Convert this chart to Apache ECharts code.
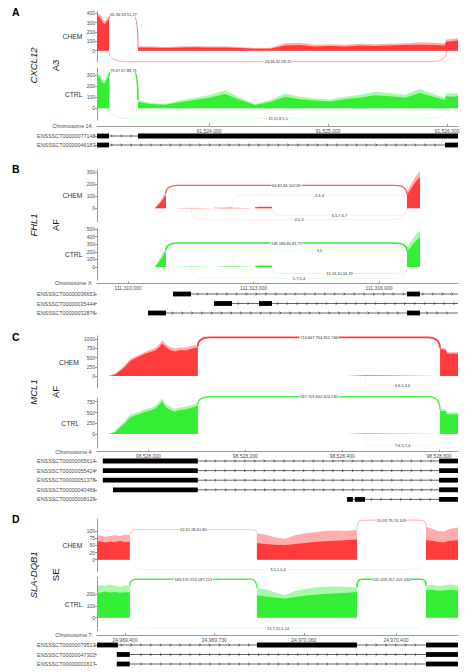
<!DOCTYPE html>
<html><head><meta charset="utf-8">
<script src="https://cdn.jsdelivr.net/npm/echarts@6/dist/echarts.min.js"></script>
<style>html,body{margin:0;padding:0;background:#fff}#c{width:474px;height:672px}</style>
</head><body><div id="c"></div>
<script>
// ================= DATA =================
// ---- Panel A : CXCL12 / A3 ----
const A_letter = 'A', A_gene = 'CXCL12', A_tissue = 'A3', A_chrom = 'Chromosome 14:';
const A_xRange = [91523059, 91526092];
const A_xTicks = [91524000, 91525000, 91526000];
const A_chemTicks = [0, 100, 200, 300, 400];
const A_ctrlTicks = [0, 100, 200, 300];
const A_covPos = [
  [91523059, 91523076, 91523092, 91523109, 91523126, 91523143, 91523160],
  [91523403, 91523504, 91523630, 91523756, 91523882, 91524008, 91524134, 91524261, 91524387, 91524513, 91524639, 91524765, 91524891, 91525017, 91525143, 91525269, 91525395, 91525521, 91525647, 91525773, 91525899, 91525983, 91525990, 91526042, 91526092]
];
const A_chemMean = [[360, 370, 340, 300, 280, 320, 340],
  [35, 35, 30, 35, 38, 35, 35, 30, 20, 20, 55, 60, 45, 50, 45, 55, 50, 55, 60, 65, 60, 55, 95, 100, 110]];
const A_chemMax = [[400, 395, 380, 340, 310, 350, 370],
  [45, 45, 40, 45, 48, 45, 45, 40, 28, 30, 80, 85, 65, 70, 65, 75, 70, 75, 80, 90, 85, 80, 120, 125, 135]];
const A_ctrlMean = [[300, 290, 260, 230, 225, 270, 290],
  [58, 40, 32, 55, 75, 95, 130, 75, 30, 58, 105, 82, 70, 62, 82, 95, 118, 110, 95, 138, 100, 75, 110, 105, 110]];
const A_ctrlMax = [[325, 315, 290, 260, 250, 300, 310],
  [75, 50, 40, 70, 95, 120, 165, 95, 40, 75, 135, 105, 90, 80, 105, 120, 150, 140, 120, 175, 125, 95, 140, 135, 140]];
const A_chemArcs = [[91523160, 91523403, 340, 35, 385], [91523160, 91526000, 0, 0, -118]];
const A_chemArcLabels = ['65,36,33,51,27', '24,36,32,28,15'];
const A_ctrlArcs = [[91523160, 91523403, 290, 75, 345], [91523160, 91526000, 0, 0, -92]];
const A_ctrlArcLabels = ['79,67,67,88,71', '15,11,8,5,5'];
const A_transcripts = ['ENSSSCT00000077148', 'ENSSSCT00000046183'];
const A_txSpans = [[91523059, 91526092], [91523059, 91526092]];
const A_txExons = [[[91523059, 91523160], [91523403, 91526092]], [[91523059, 91523160], [91525983, 91526092]]];

// ---- Panel B : FHL1 / AF ----
const B_letter = 'B', B_gene = 'FHL1', B_tissue = 'AF', B_chrom = 'Chromosome X:';
const B_xRange = [111309259, 111317888];
const B_xTicks = [111310000, 111313000, 111316000];
const B_chemTicks = [0, 100, 200, 300];
const B_ctrlTicks = [0, 100, 200, 300, 400, 500];
const B_covPos = [
  [111310645, 111310717, 111310789, 111310860, 111310908],
  [111311076, 111311506],
  [111312055, 111312486],
  [111313035, 111313131, 111313442],
  [111316668, 111316740, 111316812, 111316883, 111316979]
];
const B_chemMean = [[0, 25, 55, 85, 110], [3, 3], [4, 4], [6, 10, 10], [110, 150, 190, 225, 260]];
const B_chemMax = [[0, 35, 70, 110, 145], [5, 5], [6, 6], [10, 14, 14], [140, 185, 230, 270, 310]];
const B_ctrlMean = [[0, 50, 110, 170, 210], [4, 4], [5, 5], [10, 15, 15], [200, 250, 300, 345, 390]];
const B_ctrlMax = [[0, 70, 145, 215, 265], [6, 6], [8, 8], [15, 22, 22], [260, 315, 370, 425, 480]];
const B_chemArcs = [[111310908, 111316668, 125, 115, 190], [111312486, 111316668, 4, 110, 110],
  [111311506, 111316668, 0, 0, -95], [111313442, 111316668, 0, 0, -58]];
const B_chemArcLabels = ['64,82,84,102,85', '4,4,4', '4,5,3', '6,5,7,6,7'];
const B_ctrlArcs = [[111310908, 111316668, 220, 210, 315], [111312486, 111316668, 5, 200, 215],
  [111311506, 111316668, 0, 0, -150], [111313442, 111316668, 0, 0, -85]];
const B_ctrlArcLabels = ['138,186,80,81,75', '3,5', '5,7,5,4', '13,16,10,16,19'];
const B_transcripts = ['ENSSSCT00000036653', 'ENSSSCT00000035444', 'ENSSSCT00000032876'];
const B_txSpans = [[111311076, 111317888], [111312055, 111317888], [111310478, 111317888]];
const B_txExons = [
  [[111311076, 111311506], [111316668, 111316979]],
  [[111312055, 111312486], [111313131, 111313442]],
  [[111310478, 111310908], [111316668, 111316979]]
];

// ---- Panel C : MCL1 / AF ----
const C_letter = 'C', C_gene = 'MCL1', C_tissue = 'AF', C_chrom = 'Chromosome 4:';
const C_xRange = [98527894, 98528639];
const C_xTicks = [98528000, 98528200, 98528400, 98528600];
const C_chemTicks = [0, 250, 500, 750, 1000];
const C_ctrlTicks = [0, 250, 500, 750];
const C_covPos = [
  [98527917, 98527921, 98527931, 98527941, 98527952, 98527962, 98527972, 98527983, 98527993, 98528003, 98528014, 98528024, 98528028, 98528035, 98528045, 98528055, 98528065, 98528076, 98528086, 98528096, 98528102],
  [98528410, 98528447],
  [98528602, 98528614, 98528616, 98528627, 98528639]
];
const C_chemMean = [[0, 10, 40, 130, 250, 400, 470, 540, 600, 640, 690, 800, 880, 800, 700, 660, 700, 690, 720, 760, 780], [12, 12], [730, 700, 600, 600, 600]];
const C_chemMax = [[0, 15, 60, 170, 300, 450, 520, 590, 650, 700, 760, 880, 960, 880, 780, 740, 770, 770, 800, 830, 840], [18, 18], [770, 750, 640, 640, 640]];
const C_ctrlMean = [[0, 10, 40, 150, 250, 380, 430, 470, 520, 540, 590, 700, 760, 640, 560, 520, 560, 570, 600, 640, 660], [10, 10], [540, 530, 460, 460, 460]];
const C_ctrlMax = [[0, 15, 60, 190, 310, 440, 490, 530, 580, 600, 650, 770, 830, 710, 630, 590, 620, 630, 660, 700, 720], [15, 15], [580, 570, 500, 500, 500]];
const C_chemArcs = [[98528102, 98528602, 800, 740, 1045], [98528447, 98528602, 0, 0, -245]];
const C_chemArcLabels = ['713,667,764,812,746', '6,6,5,4,6'];
const C_ctrlArcs = [[98528102, 98528602, 680, 560, 866], [98528447, 98528602, 0, 0, -270]];
const C_ctrlArcLabels = ['567,703,662,624,530', '7,6,5,7,4'];
const C_transcripts = ['ENSSSCT00000065614', 'ENSSSCT00000055424', 'ENSSSCT00000051378', 'ENSSSCT00000040466', 'ENSSSCT00000008126'];
const C_txSpans = [[98527906, 98528639], [98527906, 98528639], [98527906, 98528639], [98527927, 98528639], [98528410, 98528639]];
const C_txExons = [
  [[98527906, 98528102], [98528600, 98528639]],
  [[98527906, 98528102], [98528600, 98528639]],
  [[98527906, 98528102], [98528600, 98528639]],
  [[98527927, 98528102], [98528600, 98528639]],
  [[98528410, 98528422], [98528426, 98528447], [98528600, 98528639]]
];

// ---- Panel D : SLA-DQB1 / SE ----
const D_letter = 'D', D_gene = 'SLA-DQB1', D_tissue = 'SE', D_chrom = 'Chromosome 7:';
const D_xRange = [24969297, 24970629];
const D_xTicks = [24969400, 24969730, 24970060, 24970400];
const D_chemTicks = [0, 25, 50, 75, 100];
const D_ctrlTicks = [0, 100, 200];
const D_covPos = [
  [24969297, 24969308, 24969326, 24969345, 24969363, 24969382, 24969400, 24969418],
  [24969887, 24969917, 24969954, 24969990, 24970027, 24970064, 24970101, 24970138, 24970175, 24970212, 24970256],
  [24970511, 24970533, 24970555, 24970577, 24970599, 24970629]
];
const D_chemMean = [[62, 64, 60, 63, 62, 65, 62, 63], [58, 55, 52, 50, 55, 58, 62, 64, 66, 68, 70], [68, 66, 62, 60, 66, 68]];
const D_chemMax = [[82, 85, 80, 83, 86, 82, 88, 85], [92, 88, 78, 72, 85, 92, 96, 100, 102, 100, 104], [115, 108, 100, 98, 108, 112]];
const D_ctrlMean = [[215, 212, 220, 214, 218, 212, 216, 214], [190, 180, 172, 162, 175, 185, 195, 200, 205, 210, 218], [232, 236, 228, 230, 236, 230]];
const D_ctrlMax = [[265, 275, 268, 278, 270, 262, 275, 268], [250, 240, 215, 190, 225, 240, 255, 262, 265, 260, 255], [270, 280, 268, 275, 282, 270]];
const D_chemArcs = [[24969418, 24969887, 85, 92, 105], [24970256, 24970511, 104, 115, 138], [24969418, 24970511, 0, 0, -34]];
const D_chemArcLabels = ['42,61,58,61,80', '55,93,79,74,109', '3,5,1,0,4'];
const D_ctrlArcs = [[24969418, 24969887, 268, 250, 325], [24970256, 24970511, 255, 270, 325], [24969418, 24970511, 0, 0, -92]];
const D_ctrlArcLabels = ['169,137,253,187,213', '242,209,257,207,234', '13,7,11,5,14'];
const D_transcripts = ['ENSSSCT00000079513', 'ENSSSCT00000047302', 'ENSSSCT00000001617'];
const D_txSpans = [[24969297, 24970629], [24969370, 24970629], [24969370, 24970629]];
const D_txExons = [
  [[24969297, 24969374], [24969887, 24970256], [24970511, 24970629]],
  [[24969370, 24969418], [24970511, 24970629]],
  [[24969370, 24969418], [24970511, 24970629]]
];

// ================= STYLE / LAYOUT =================
const FONT = '"Liberation Sans", Arial, Helvetica, sans-serif';
const RED = '#ff3b3b', GREEN = '#33ee33';
const GL = 97, GW = 361;
const layouts = [
  { letterY: 11.7, labelRight: 82.5, tracks: [{ top: 11, h: 51, min: -121, max: 425 }, { top: 68, h: 52, min: -106, max: 366 }], tx: { top: 131.5, h: 18, off: 5.5 } },
  { letterY: 168.8, labelRight: 82.5, tracks: [{ top: 170, h: 51.7, min: -112, max: 319 }, { top: 228.3, h: 51.7, min: -171, max: 509 }], tx: { top: 289.25, h: 28.5, off: 6 } },
  { letterY: 336.7, labelRight: 79, tracks: [{ top: 336, h: 52, min: -324, max: 1081 }, { top: 398, h: 50, min: -325, max: 837 }], tx: { top: 456.2, h: 48, off: 4.5 } },
  { letterY: 519.2, labelRight: 82.5, tracks: [{ top: 519, h: 52.7, min: -42, max: 142 }, { top: 577.3, h: 53.4, min: -110, max: 342 }], tx: { top: 640.25, h: 28.5, off: 5.25 } }
];

function mk(letter, gene, tissue, chrom, xRange, xTicks, chemTicks, ctrlTicks, pos, cm, cx, tm, tx, ca, cal, ta, tal, tr, sp, ex) {
  return { letter, gene, tissue, chrom, xRange, xTicks, transcripts: tr, spans: sp, exons: ex,
    tracks: [
      { name: 'CHEM', color: RED, ticks: chemTicks, pos, mean: cm, max: cx, arcs: ca, arcLabels: cal },
      { name: 'CTRL', color: GREEN, ticks: ctrlTicks, pos, mean: tm, max: tx, arcs: ta, arcLabels: tal }
    ] };
}
const panels = [
  mk(A_letter, A_gene, A_tissue, A_chrom, A_xRange, A_xTicks, A_chemTicks, A_ctrlTicks, A_covPos, A_chemMean, A_chemMax, A_ctrlMean, A_ctrlMax, A_chemArcs, A_chemArcLabels, A_ctrlArcs, A_ctrlArcLabels, A_transcripts, A_txSpans, A_txExons),
  mk(B_letter, B_gene, B_tissue, B_chrom, B_xRange, B_xTicks, B_chemTicks, B_ctrlTicks, B_covPos, B_chemMean, B_chemMax, B_ctrlMean, B_ctrlMax, B_chemArcs, B_chemArcLabels, B_ctrlArcs, B_ctrlArcLabels, B_transcripts, B_txSpans, B_txExons),
  mk(C_letter, C_gene, C_tissue, C_chrom, C_xRange, C_xTicks, C_chemTicks, C_ctrlTicks, C_covPos, C_chemMean, C_chemMax, C_ctrlMean, C_ctrlMax, C_chemArcs, C_chemArcLabels, C_ctrlArcs, C_ctrlArcLabels, C_transcripts, C_txSpans, C_txExons),
  mk(D_letter, D_gene, D_tissue, D_chrom, D_xRange, D_xTicks, D_chemTicks, D_ctrlTicks, D_covPos, D_chemMean, D_chemMax, D_ctrlMean, D_ctrlMax, D_chemArcs, D_chemArcLabels, D_ctrlArcs, D_ctrlArcLabels, D_transcripts, D_txSpans, D_txExons)
];

// ================= BUILD =================
function rgba(hex, a) {
  const n = parseInt(hex.slice(1), 16);
  return 'rgba(' + (n >> 16) + ',' + ((n >> 8) & 255) + ',' + (n & 255) + ',' + a + ')';
}
function meanOf(label) { const v = label.split(',').map(Number); return v.reduce((s, x) => s + x, 0) / v.length; }
function covData(pos, vals) {
  const d = [];
  pos.forEach((seg, si) => {
    d.push([seg[0], 0]);
    seg.forEach((x, j) => d.push([x, vals[si][j]]));
    d.push([seg[seg.length - 1], 0]);
  });
  return d;
}
function fmt(v) { return String(v).replace(/\B(?=(\d{3})+(?!\d))/g, ','); }

const grid = [], xAxis = [], yAxis = [], series = [], graphic = [];
const axisCol = '#555', labCol = '#4d4d4d';

panels.forEach((p, pi) => {
  const L = layouts[pi];
  const maxMean = Math.max(...p.tracks.flatMap(t => t.arcLabels.map(meanOf)));
  p.tracks.forEach((t, ti) => {
    const lt = L.tracks[ti];
    const gi = grid.length;
    grid.push({ left: GL, width: GW, top: lt.top, height: lt.h, outerBoundsMode: 'none' });
    xAxis.push({ gridIndex: gi, type: 'value', min: p.xRange[0], max: p.xRange[1], show: false });
    yAxis.push({ gridIndex: gi, type: 'value', min: lt.min, max: lt.max,
      axisLine: { show: true, lineStyle: { color: axisCol, width: 0.6 } },
      axisTick: { show: true, length: 2, customValues: t.ticks, lineStyle: { color: axisCol, width: 0.6 } },
      axisLabel: { customValues: t.ticks, formatter: v => String(v), fontSize: 5, color: labCol, margin: 2, fontFamily: FONT },
      splitLine: { show: false } });
    series.push({ type: 'line', xAxisIndex: gi, yAxisIndex: gi, data: covData(t.pos, t.max), symbol: 'none',
      lineStyle: { width: 0, opacity: 0 }, areaStyle: { color: t.color, opacity: 0.42 }, silent: true, z: 1, animation: false });
    series.push({ type: 'line', xAxisIndex: gi, yAxisIndex: gi, data: covData(t.pos, t.mean), symbol: 'none',
      lineStyle: { width: 0, opacity: 0 }, areaStyle: { color: t.color, opacity: 1 }, silent: true, z: 2, animation: false });
    const arcs = t.arcs, labels = t.arcLabels, color = t.color;
    series.push({ type: 'custom', xAxisIndex: gi, yAxisIndex: gi, silent: true, z: 3, animation: false,
      data: arcs.map(a => a.slice()), encode: { x: [0, 1], y: [2, 3, 4] },
      renderItem: function (params, api) {
        const i = params.dataIndex, a = arcs[i];
        const p1 = api.coord([a[0], a[2]]), p2 = api.coord([a[1], a[3]]);
        const hy = api.coord([a[0], a[4]])[1];
        const len = p2[0] - p1[0];
        const w = Math.min(Math.max(len * 0.05, 5), len / 3);
        const r = meanOf(labels[i]) / maxMean;
        const st = { stroke: rgba(color, (0.25 + 0.75 * r).toFixed(3)), lineWidth: 0.35 + 1.25 * r, fill: null };
        return { type: 'group', children: [
          { type: 'bezierCurve', shape: { x1: p1[0], y1: p1[1], x2: p1[0] + w, y2: hy, cpx1: p1[0], cpy1: hy }, style: st },
          { type: 'line', shape: { x1: p1[0] + w, y1: hy, x2: p2[0] - w, y2: hy }, style: st },
          { type: 'bezierCurve', shape: { x1: p2[0] - w, y1: hy, x2: p2[0], y2: p2[1], cpx1: p2[0], cpy1: hy }, style: st },
          { type: 'text', x: (p1[0] + p2[0]) / 2, y: hy, z2: 10, style: { text: labels[i], fontSize: 4, fontFamily: FONT, fill: '#333',
            align: 'center', verticalAlign: 'middle', backgroundColor: '#fff', padding: [0, 0.5] } }
        ] };
      } });
    graphic.push({ type: 'text', x: L.labelRight, y: lt.top + lt.h / 2,
      style: { text: t.name, align: 'right', verticalAlign: 'middle', fontSize: 6.8, fill: '#333', fontFamily: FONT } });
  });

  // transcript track with chromosome axis
  const gi = grid.length;
  const T = L.tx;
  grid.push({ left: GL, width: GW, top: T.top, height: T.h, outerBoundsMode: 'none' });
  xAxis.push({ gridIndex: gi, type: 'value', position: 'top', offset: T.off, min: p.xRange[0], max: p.xRange[1],
    name: p.chrom, nameLocation: 'start', nameGap: 4,
    nameTextStyle: { fontSize: 5.3, color: labCol, fontFamily: FONT, align: 'right', verticalAlign: 'middle' },
    axisLine: { show: true, lineStyle: { color: axisCol, width: 0.6 } },
    axisTick: { show: true, length: 2, customValues: p.xTicks, lineStyle: { color: axisCol, width: 0.6 } },
    axisLabel: { inside: true, customValues: p.xTicks, formatter: fmt, fontSize: 5, color: labCol, margin: 2, fontFamily: FONT },
    splitLine: { show: false } });
  yAxis.push({ gridIndex: gi, type: 'category', data: p.transcripts, inverse: true,
    axisLine: { show: false },
    axisTick: { show: true, length: 2.5, alignWithLabel: true, lineStyle: { color: '#333', width: 0.6 } },
    axisLabel: { fontSize: 5.4, color: labCol, margin: 1.5, fontFamily: FONT },
    splitLine: { show: false } });
  const spans = p.spans, exons = p.exons;
  series.push({ type: 'custom', xAxisIndex: gi, yAxisIndex: gi, silent: true, animation: false,
    data: spans.map((s, i) => [s[0], i, s[1]]), encode: { x: [0, 2], y: 1 },
    renderItem: function (params, api) {
      const i = params.dataIndex, s = spans[i];
      const a = api.coord([s[0], i]), b = api.coord([s[1], i]);
      const y = a[1];
      const ex = exons[i].map(e => [api.coord([e[0], i])[0], api.coord([e[1], i])[0]]);
      const ch = [{ type: 'line', shape: { x1: a[0], y1: y, x2: b[0], y2: y }, style: { stroke: '#000', lineWidth: 0.6 } }];
      for (let x = a[0] + 5; x < b[0] - 2; x += 9.8) {
        if (ex.some(e => x > e[0] - 2.5 && x < e[1] + 2.5)) continue;
        ch.push({ type: 'polyline', shape: { points: [[x - 1, y - 1.3], [x + 0.6, y], [x - 1, y + 1.3]] },
          style: { stroke: '#000', lineWidth: 0.5, fill: null } });
      }
      ex.forEach(e => ch.push({ type: 'rect', shape: { x: e[0], y: y - 2.4, width: Math.max(e[1] - e[0], 0.8), height: 4.8 }, style: { fill: '#000' } }));
      return { type: 'group', children: ch };
    } });

  // panel annotations
  const top = L.tracks[0].top, bot = L.tracks[1].top + L.tracks[1].h, cy = (top + bot) / 2;
  graphic.push({ type: 'text', x: 12, y: L.letterY, style: { text: p.letter, align: 'left', verticalAlign: 'middle', fontSize: 10.5, fontWeight: 'bold', fill: '#000', fontFamily: FONT } });
  graphic.push({ type: 'text', x: 33, y: cy, rotation: Math.PI / 2, style: { text: p.gene, align: 'center', verticalAlign: 'middle', fontSize: 9.5, fontStyle: 'italic', fill: '#1a1a1a', fontFamily: FONT } });
  graphic.push({ type: 'text', x: 55, y: cy, rotation: Math.PI / 2, style: { text: p.tissue, align: 'center', verticalAlign: 'middle', fontSize: 9.5, fill: '#1a1a1a', fontFamily: FONT } });
});

const chart = echarts.init(document.getElementById('c'), null, { renderer: 'svg', width: 474, height: 672 });
chart.setOption({
  animation: false,
  backgroundColor: '#fff',
  textStyle: { fontFamily: FONT },
  grid, xAxis, yAxis, series, graphic
});
</script>
</body></html>
